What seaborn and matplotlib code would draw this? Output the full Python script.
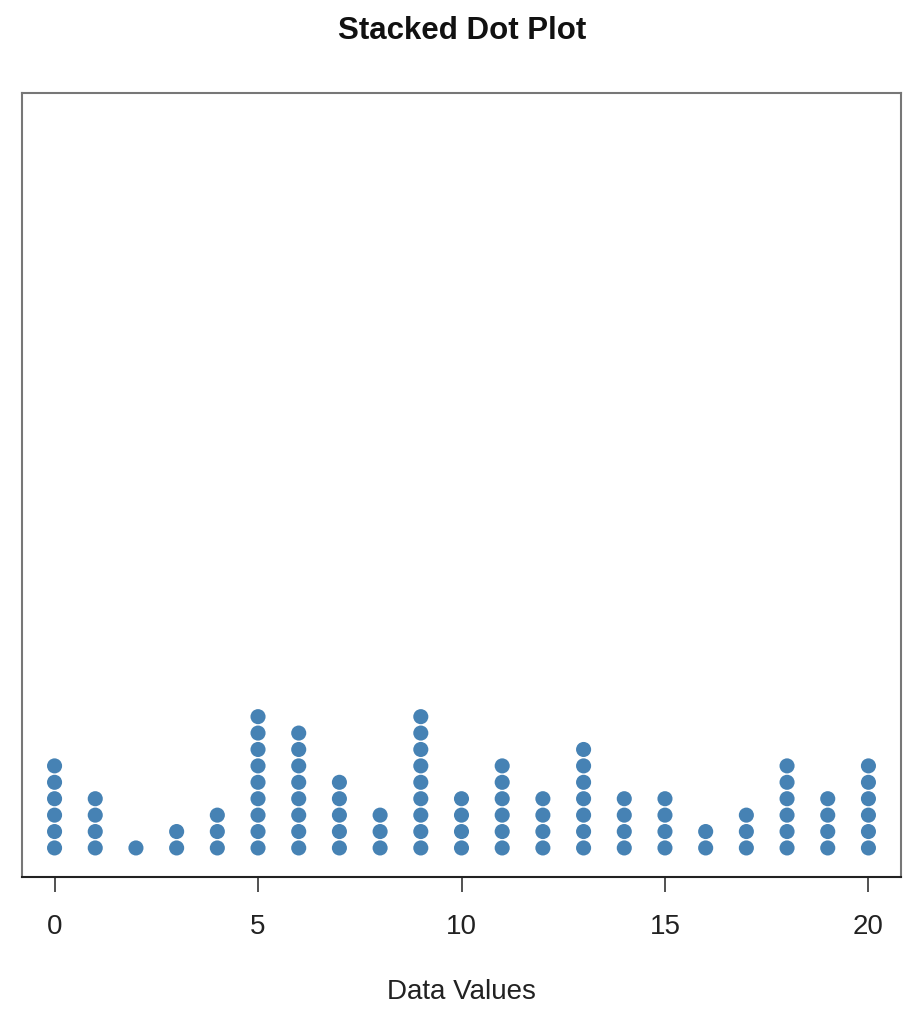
import matplotlib
matplotlib.use("Agg")
import matplotlib.pyplot as plt
import numpy as np
import pandas as pd
import seaborn as sns

# values on the x axis and how many dots are stacked at each
values = list(range(21))
counts = [6, 4, 1, 2, 3, 9, 8, 5, 3, 9, 4, 6, 4, 7, 4, 4, 2, 3, 6, 4, 6]
x_ticks = [0, 5, 10, 15, 20]

# long form table: one row per dot, level = position in the stack
rows = []
for v, c in zip(values, counts):
    for k in range(c):
        rows.append({"value": v, "level": k})
df = pd.DataFrame(rows)

sns.set_style("white")
plt.rcParams["font.family"] = ["Liberation Sans", "DejaVu Sans"]

fig = plt.figure(figsize=(9.13, 10.09), dpi=100)
ax = fig.add_axes([22 / 913, 1 - 877 / 1009, (901 - 22) / 913, (877 - 93) / 1009])

sns.scatterplot(data=df, x="value", y="level", ax=ax, color="#4682B4",
                s=118, edgecolor="none", linewidth=0, legend=False)

ax.set_xlim(-0.8, 20.8)
ax.set_ylim(-1.77, 46.0)
ax.set_yticks([])
ax.set_xticks(x_ticks)
ax.set_xticklabels([str(t) for t in x_ticks], fontsize=20, color="#222222")
ax.tick_params(axis="x", direction="out", length=11, width=1.2, pad=16,
               bottom=True, color="#333333")
ax.set_xlabel("Data Values", fontsize=20, labelpad=28, color="#222222")
ax.set_ylabel("")

for side in ["top", "left", "right"]:
    ax.spines[side].set_color("#777777")
    ax.spines[side].set_linewidth(1.5)
ax.spines["bottom"].set_color("#222222")
ax.spines["bottom"].set_linewidth(1.5)

fig.text(462 / 913, 1 - 31 / 1009, "Stacked Dot Plot", ha="center", va="center",
         fontsize=22.5, fontweight="bold", color="#111111")

fig.savefig("out.png", dpi=100)
